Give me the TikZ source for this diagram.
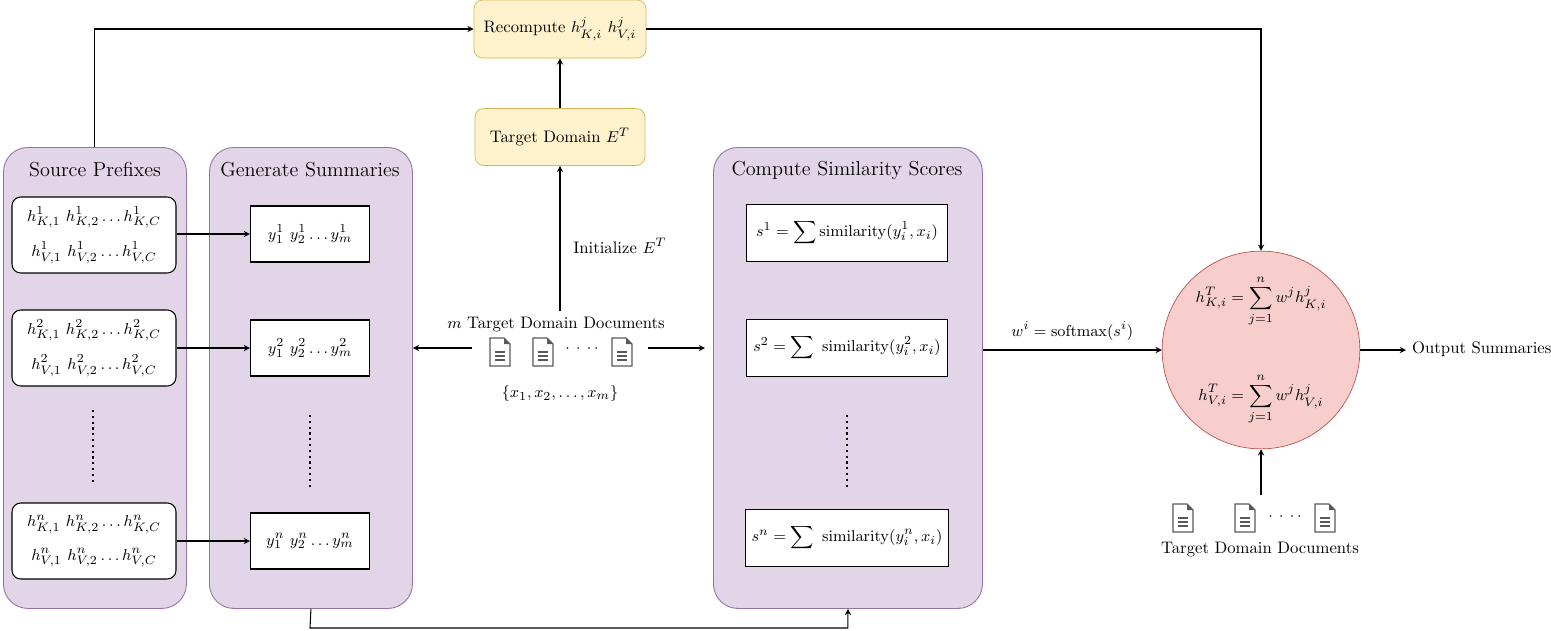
\documentclass[tikz,border=0pt]{standalone}
\usepackage{amsmath}
\begin{document}
\begin{tikzpicture}[x=0.02cm,y=-0.02cm,
  box/.style={draw,fill=white,line width=0.6pt,align=center,font=\fontsize{9.5}{12}\selectfont},
  rbox/.style={box,rounded corners=5pt},
  ybox/.style={draw={rgb,255:red,214;green,182;blue,86},fill={rgb,255:red,255;green,242;blue,204},rounded corners=5pt,align=center,font=\fontsize{9.5}{12}\selectfont},
  head/.style={font=\fontsize{11.5}{13}\selectfont},
  lbl/.style={font=\fontsize{9.5}{12}\selectfont},
  arr/.style={->,>=stealth,line width=0.6pt},
  vdots/.style={dotted,line width=1.3pt},
  doc/.pic={\draw[gray!70!black,line width=0.8pt,fill=white] (-10,-14)--(4,-14)--(10,-8)--(10,14)--(-10,14)--cycle;
            \fill[gray!70!black] (4,-14)--(10,-8)--(4,-8)--cycle;
            \foreach \yy in {0,4,8}{\draw[gray!70!black,line width=0.8pt] (-5,\yy)--(5,\yy);}}
]
\definecolor{pfill}{RGB}{225,213,231}\definecolor{pdraw}{RGB}{150,115,166}
\definecolor{cfill}{RGB}{248,206,204}\definecolor{cdraw}{RGB}{184,84,80}
\tikzset{panel/.style={draw=pdraw,fill=pfill,rounded corners=14pt,line width=0.5pt}}
\useasboundingbox (0,0) rectangle (1551,630);
% panels
\node[panel,minimum width=183*0.02cm,minimum height=461*0.02cm,anchor=north west] (sp) at (3,147) {};
\node[panel,minimum width=203*0.02cm,minimum height=461*0.02cm,anchor=north west] (gs) at (209,147) {};
\node[panel,minimum width=269*0.02cm,minimum height=461*0.02cm,anchor=north west] (cs) at (713,147) {};
\node[head] (sph) at (95,170) {Source Prefixes};
\node[head] (gsh) at (310,170) {Generate Summaries};
\node[head] (csh) at (847,170) {Compute Similarity Scores};
% source boxes
\tikzset{sbox/.style={rbox,minimum width=164*0.02cm,minimum height=76*0.02cm}}
\node[sbox] (s1) at (94,235) {$h^1_{K,1}\ h^1_{K,2}\dots h^1_{K,C}$\\[7pt]$h^1_{V,1}\ h^1_{V,2}\dots h^1_{V,C}$};
\node[sbox] (s2) at (94,348) {$h^2_{K,1}\ h^2_{K,2}\dots h^2_{K,C}$\\[7pt]$h^2_{V,1}\ h^2_{V,2}\dots h^2_{V,C}$};
\node[sbox] (sn) at (94,541) {$h^n_{K,1}\ h^n_{K,2}\dots h^n_{K,C}$\\[7pt]$h^n_{V,1}\ h^n_{V,2}\dots h^n_{V,C}$};
\draw[vdots] (93,410)--(93,482);
% summaries
\tikzset{ybx/.style={box,minimum width=119*0.02cm,minimum height=56*0.02cm}}
\node[ybx] (y1) at (310,234) {$y^1_1\ y^1_2\dots y^1_m$};
\node[ybx] (y2) at (310,348) {$y^2_1\ y^2_2\dots y^2_m$};
\node[ybx] (yn) at (310,541) {$y^n_1\ y^n_2\dots y^n_m$};
\draw[vdots] (310,415)--(310,487);
\draw[arr] (s1.east|-y1) -- (y1.west);
\draw[arr] (s2.east|-y2) -- (y2.west);
\draw[arr] (sn.east|-yn) -- (yn.west);
% similarity
\tikzset{sbx/.style={box,minimum width=201*0.02cm,minimum height=57*0.02cm}}
\node[sbx] (c1) at (847,233) {$s^1=\displaystyle\sum\mathrm{similarity}(y^1_i,x_i)$};
\node[sbx] (c2) at (847,348) {$s^2=\displaystyle\sum\ \mathrm{similarity}(y^2_i,x_i)$};
\node[sbx] (cn) at (847,538) {$s^n=\displaystyle\sum\ \mathrm{similarity}(y^n_i,x_i)$};
\draw[vdots] (847,415)--(847,487);
% yellow boxes
\node[ybox,minimum width=172*0.02cm,minimum height=58*0.02cm] (rc) at (560,29) {Recompute $h^j_{K,i}\ h^j_{V,i}$};
\node[ybox,minimum width=170*0.02cm,minimum height=57*0.02cm] (td) at (560,137) {Target Domain $E^T$};
% documents
\node[minimum width=176*0.02cm,minimum height=40*0.02cm] (docs) at (560,348) {};
\pic at (500,352) {doc}; \pic at (543,352) {doc}; \pic at (622,352) {doc};
\node[lbl] (dots1) at (582,349) {$\cdot\,\cdot\,\cdot\,\cdot$};
\node[lbl] (dl) at (556,325) {$m$ Target Domain Documents};
\node[lbl] (xs) at (560,394) {$\{x_1,x_2,\ldots,x_m\}$};
\draw[arr] (td.south|-dl.north) -- node[lbl,right=4pt,pos=0.45]{Initialize $E^T$} (td.south);
\draw[arr] (td.north) -- (rc.south);
\draw[arr] (docs.west) -- (gs.east|-docs.west);
\draw[arr] (docs.east) -- (705,348);
% circle
\node[circle,draw=cdraw,fill=cfill,minimum size=196*0.02cm,align=center,inner sep=0pt,font=\fontsize{9.5}{12}\selectfont] (ag) at (1261,350)
 {$\displaystyle h^T_{K,i}=\sum_{j=1}^{n} w^j h^j_{K,i}$\\[26pt]$\displaystyle h^T_{V,i}=\sum_{j=1}^{n} w^j h^j_{V,i}$};
\draw[arr] (cs.east|-ag) -- node[lbl,above=2pt]{$w^i=\mathrm{softmax}(s^i)$} (ag.west);
\node[lbl,anchor=west] (out) at (1406,349) {Output Summaries};
\draw[arr] (ag.east) -- (out.west|-ag.east);
% top connectors
\draw[arr] (sp.north) |- (rc.west);
\draw[arr] (rc.east) -| (ag.north);
\draw[arr] (gs.south) -- (310,628) -| (cs.south);
% target docs bottom right
\pic at (1183,518) {doc}; \pic at (1245,518) {doc}; \pic at (1325,518) {doc};
\node[lbl] (tdots) at (1285,517) {$\cdot\,\cdot\,\cdot\,\cdot$};
\node[lbl] (tdl) at (1260,550) {Target Domain Documents};
\coordinate (tdtop) at (1261,495);
\draw[arr] (tdtop) -- (ag.south);
\end{tikzpicture}
\end{document}
